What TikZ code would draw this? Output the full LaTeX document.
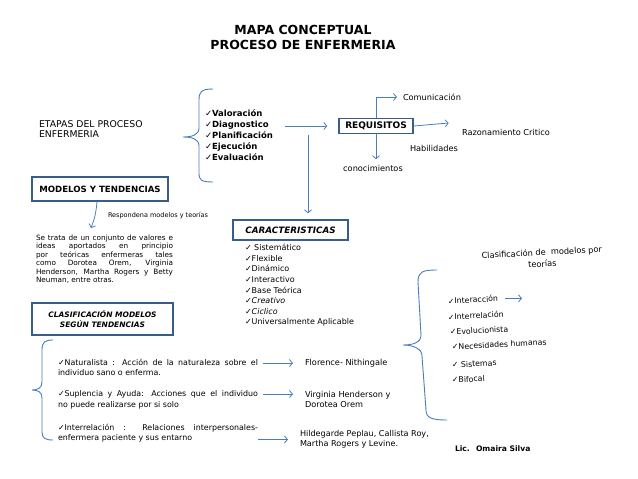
\documentclass[tikz,border=0pt]{standalone}
\usepackage{fontspec}
\setmainfont{DejaVu Sans}
\usetikzlibrary{arrows.meta}
\definecolor{lineblue}{HTML}{4A7EBB}
\definecolor{boxblue}{HTML}{385D8A}
\newcommand\ck{✓}
\begin{document}
\begin{tikzpicture}[x=1pt,y=-1pt,
  arr/.style={draw=lineblue, line width=0.8pt, -{Straight Barb[length=3pt,width=7pt]}},
  brace/.style={draw=lineblue, line width=0.9pt},
  box/.style={draw=boxblue, line width=1.4pt, fill=white, inner sep=0pt, text=black},
  txt/.style={inner sep=0pt, outer sep=0pt, text=black},
  lbl/.style={txt, font=\fontsize{8.2}{9}\selectfont},
  item/.style={txt, text width=200, align=justify},
  ritem/.style={txt, rotate=3, anchor=west, font=\fontsize{7.8}{9}\selectfont},
  ]
\useasboundingbox[fill=white] (0,0) rectangle (638,479);

% title
\node[txt, font=\fontsize{12.5}{15}\selectfont\bfseries, align=center] (title) at (303,37) {MAPA CONCEPTUAL\\PROCESO DE ENFERMERIA};

% etapas
\node[txt, anchor=west, font=\fontsize{9.3}{10.5}\selectfont, align=left] (etapas) at (39,129) {ETAPAS DEL PROCESO\\ENFERMERIA};
\draw[brace] (213,89) .. controls (201,89) and (199,92) .. (199,100) -- (199,128) .. controls (199,135) and (192,137) .. (183,137) .. controls (192,137) and (199,139) .. (199,146) -- (199,173) .. controls (199,180) and (201,182) .. (213,182);
\node[txt, anchor=west, font=\fontsize{8.5}{11}\selectfont\bfseries, align=left] (elist) at (205,135.5) {\ck Valoración\\\ck Diagnostico\\\ck Planificación\\\ck Ejecución\\\ck Evaluación};

% requisitos
\node[box, minimum width=74, minimum height=15, font=\fontsize{9}{10}\selectfont\bfseries] (req) at (376,126) {REQUISITOS};
\node[lbl, anchor=west] (com) at (403,97) {Comunicación};
\node[lbl, anchor=west] (raz) at (462,132) {Razonamiento Critico};
\node[lbl, anchor=west] (hab) at (410,148) {Habilidades};
\node[lbl] (con) at (373,168) {conocimientos};
\draw[arr] ([xshift=12pt]elist.east |- req.west) -- ([xshift=-11pt]req.west);
\draw[arr] (req.north) |- ([xshift=-6pt]com.west);
\draw[arr] (req.east) -- ([xshift=35pt,yshift=3pt]req.east);
\draw[arr] (req.south) -- ([yshift=-25pt]req.south);

% caracteristicas
\node[box, minimum width=115, minimum height=20, font=\fontsize{8.8}{10}\selectfont\bfseries\itshape] (car) at (290.5,230) {CARACTERISTICAS};
\coordinate (a2) at (308,135);
\draw[arr] (a2) -- ([yshift=6pt]a2 |- car.north);
\node[txt, anchor=west, font=\fontsize{8}{10.6}\selectfont, align=left] (clist) at (245,285.5) {\ck\ Sistemático\\\ck Flexible\\\ck Dinámico\\\ck Interactivo\\\ck Base Teórica\\\ck\textit{Creativo}\\\ck\textit{Ciclico}\\\ck Universalmente Aplicable};

% modelos
\node[box, minimum width=136, minimum height=24, font=\fontsize{8.6}{10}\selectfont\bfseries] (mod) at (100,189) {MODELOS Y TENDENCIAS};
\node[txt, anchor=west, font=\fontsize{6.5}{7}\selectfont] (resp) at (108,216) {Respondena modelos y teorías};
\node[txt, text width=137, align=justify, font=\fontsize{7.3}{8.5}\selectfont] (par) at (104.5,259) {Se trata de un conjunto de valores e\linebreak ideas aportados en principio\linebreak por teóricas enfermeras tales\linebreak como Dorotea Orem, Virginia\linebreak Henderson, Martha Rogers y Betty\linebreak Neuman, entre otras.};
\coordinate (p1) at (91,228);
\draw[arr] ([xshift=-3pt]mod.south) to[bend left=8] (p1);

% clasificacion modelos
\node[box, minimum width=141, minimum height=32, align=center, font=\fontsize{7.5}{10}\selectfont\bfseries\itshape] (cla) at (102.5,319) {CLASIFICACIÓN MODELOS\\SEGÚN TENDENCIAS};
\draw[brace] (53,340) .. controls (45,340) and (42,342) .. (42,350) -- (42,382) .. controls (42,388) and (38,390) .. (32,390) .. controls (38,390) and (42,392) .. (42,398) -- (42,432) .. controls (42,438) and (45,440) .. (53,440);
\node[item, font=\fontsize{7.9}{10.5}\selectfont] (n1) at (158,367.5) {\ck Naturalista : Acción de la naturaleza sobre el\linebreak individuo sano o enferma.};
\node[item, font=\fontsize{7.9}{11.5}\selectfont] (n2) at (158,400) {\ck Suplencia y Ayuda: Acciones que el individuo\linebreak no puede realizarse por si solo};
\node[item, font=\fontsize{7.9}{10.5}\selectfont] (n3) at (158,433) {\ck Interrelación : Relaciones interpersonales-\linebreak enfermera paciente y sus entarno};
\node[lbl, anchor=west] (f1) at (305,363) {Florence- Nithingale};
\node[lbl, anchor=west, align=left, font=\fontsize{8.2}{9.5}\selectfont] (f2) at (305,399.5) {Virginia Henderson y\\Dorotea Orem};
\node[lbl, anchor=west, align=left, font=\fontsize{8.1}{9.5}\selectfont] (f3) at (300,439.5) {Hildegarde Peplau, Callista Roy,\\Martha Rogers y Levine.};
\draw[arr] ([xshift=5pt]n1.east |- f1.west) -- ([xshift=-12pt]f1.west);
\draw[arr] ([xshift=5pt,yshift=6pt]n2.east) -- ([xshift=-12pt,yshift=5.5pt]f2.west);
\draw[arr] (n3.east |- f3.west) -- ([xshift=-12pt]f3.west);

% clasificacion por teorias
\node[txt, rotate=3, align=center, font=\fontsize{8.2}{11.5}\selectfont] (teo) at (542,258) {Clasificación de \ modelos por\\teorías};
\draw[brace] (437,270) .. controls (422,270) and (418,272) .. (418,282) -- (421,335) .. controls (421,343) and (412,345) .. (403,345) .. controls (412,345) and (422,348) .. (422,356) -- (426,410) .. controls (426,418) and (432,420) .. (447,420);
\node[ritem] (i1) at (448,301) {\ck Interacción};
\node[ritem] (i2) at (448,317) {\ck Interrelación};
\node[ritem] (i3) at (450,332) {\ck Evolucionista};
\node[ritem] (i4) at (452,347) {\ck Necesidades humanas};
\node[ritem] (i5) at (452,365) {\ck\ Sistemas};
\node[ritem] (i6) at (452,380) {\ck Bifocal};
\draw[arr] ([xshift=7pt]i1.east) -- ([xshift=24pt]i1.east);

% autor
\node[txt, anchor=west, font=\fontsize{7.6}{8}\selectfont\bfseries] (lic) at (455,449) {Lic. \ Omaira Silva};
\end{tikzpicture}
\end{document}
